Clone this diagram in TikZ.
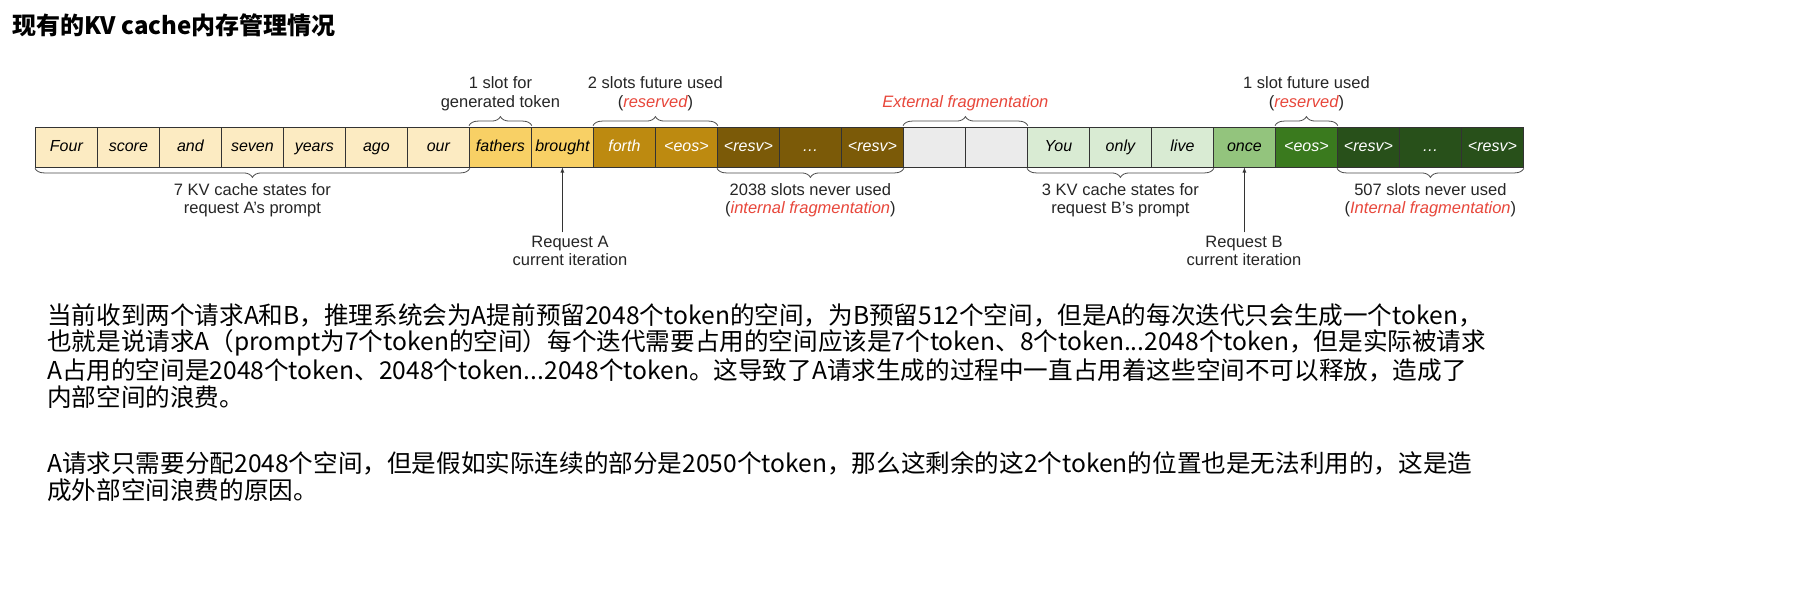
\documentclass[tikz,border=0pt]{standalone}
\usepackage{fontspec}
\setmainfont{Liberation Sans}
\newfontfamily\cjk{Noto Sans CJK SC}
\usetikzlibrary{decorations.pathreplacing}
\definecolor{cA}{HTML}{FCEBC2}
\definecolor{cAg}{HTML}{F8D065}
\definecolor{cAr}{HTML}{BD8A10}
\definecolor{cAn}{HTML}{7B5A08}
\definecolor{cE}{HTML}{EBEBEB}
\definecolor{cB}{HTML}{D9EBD3}
\definecolor{cBg}{HTML}{93C47D}
\definecolor{cBr}{HTML}{3A7A1E}
\definecolor{cBn}{HTML}{28501A}
\definecolor{red2}{HTML}{E8473B}
\tikzset{
 cell/.style={draw=black!80,line width=0.8pt,minimum width=62pt,minimum height=40pt,inner sep=0pt,text height=12pt,text depth=3.5pt,font=\fontsize{16}{16}\selectfont\itshape,anchor=west},
 lbl/.style={font=\fontsize{16.5}{18.5}\selectfont,align=center,text=black!85},
 brup/.style={decorate,decoration={brace,amplitude=9pt,raise=1pt},draw=black!70,line width=0.8pt},
 body/.style={font=\cjk\fontsize{24.6}{27}\selectfont,anchor=west,inner sep=0pt},
 arr/.style={-latex,draw=black!80,line width=0.8pt}
}
\begin{document}
\begin{tikzpicture}[x=1pt,y=-1pt]
\useasboundingbox[fill=white] (0,0) rectangle (1796,607);
\node[anchor=west,font=\cjk\bfseries\fontsize{24}{24}\selectfont,inner sep=0pt] (title) at (12,25) {现有的KV cache内存管理情况};
\foreach \i/\t/\c/\tc in {0/Four/cA/black,1/score/cA/black,2/and/cA/black,3/seven/cA/black,4/years/cA/black,5/ago/cA/black,6/our/cA/black,7/fathers/cAg/black,8/brought/cAg/black,9/forth/cAr/white,10/<eos>/cAr/white,11/<resv>/cAn/white,12/\dots/cAn/white,13/<resv>/cAn/white,14/{}/cE/black,15/{}/cE/black,16/You/cB/black,17/only/cB/black,18/live/cB/black,19/once/cBg/black,20/<eos>/cBr/white,21/<resv>/cBn/white,22/\dots/cBn/white,23/<resv>/cBn/white}
  \node[cell,fill=\c,text=\tc] (c\i) at ({35+62*\i},147) {\t};
% braces above
\draw[brup] (c7.north west) -- (c7.north east) node[midway,above=12pt,lbl] (l1) {1 slot for\\generated token};
\draw[brup] (c9.north west) -- (c10.north east) node[midway,above=12pt,lbl] (l2) {2 slots future used\\(\textcolor{red2}{\itshape reserved})};
\draw[brup] (c14.north west) -- (c15.north east) node[midway,above=12pt,lbl,text=red2,font=\fontsize{16.5}{18.5}\selectfont\itshape] (l3) {External fragmentation};
\draw[brup] (c20.north west) -- (c20.north east) node[midway,above=12pt,lbl] (l4) {1 slot future used\\(\textcolor{red2}{\itshape reserved})};
% braces below
\draw[brup] (c6.south east) -- (c0.south west) node[midway,below=12pt,lbl] (l5) {7 KV cache states for\\request A's prompt};
\draw[brup] (c13.south east) -- (c11.south west) node[midway,below=12pt,lbl] (l6) {2038 slots never used\\(\textcolor{red2}{\itshape internal fragmentation})};
\draw[brup] (c18.south east) -- (c16.south west) node[midway,below=12pt,lbl] (l7) {3 KV cache states for\\request B's prompt};
\draw[brup] (c23.south east) -- (c21.south west) node[midway,below=12pt,lbl] (l8) {507 slots never used\\(\textcolor{red2}{\itshape Internal fragmentation})};
% arrows
\node[lbl] (ra) at (570,251) {Request A\\current iteration};
\node[lbl] (rb) at (1244,251) {Request B\\current iteration};
\draw[arr] (ra.north -| c8.south) -- (c8.south);
\draw[arr] (rb.north -| c19.south) -- (c19.south);
% body text
\node[body] (t1) at (47,315) {当前收到两个请求A和B，推理系统会为A提前预留2048个token的空间，为B预留512个空间，但是A的每次迭代只会生成一个token，};
\node[body] (t2) at (47,343) {也就是说请求A（prompt为7个token的空间）每个迭代需要占用的空间应该是7个token、8个token...2048个token，但是实际被请求};
\node[body] (t3) at (47,370) {A占用的空间是2048个token、2048个token...2048个token。这导致了A请求生成的过程中一直占用着这些空间不可以释放，造成了};
\node[body] (t4) at (47,397) {内部空间的浪费。};
\node[body] (t5) at (47,463) {A请求只需要分配2048个空间，但是假如实际连续的部分是2050个token，那么这剩余的这2个token的位置也是无法利用的，这是造};
\node[body] (t6) at (47,490) {成外部空间浪费的原因。};
\end{tikzpicture}
\end{document}
